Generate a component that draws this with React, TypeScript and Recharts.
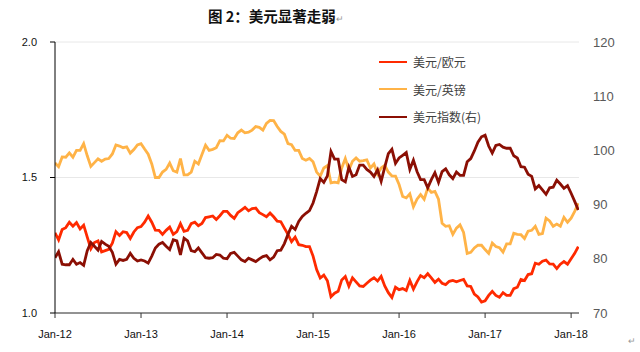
import { LineChart, Line, XAxis, YAxis, CartesianGrid } from "recharts";

// readings at the turn of each month (index 0 = start of Jan-12) and in the middle of each month
const eurStart = [
  1.296,
  1.308, 1.335, 1.334, 1.324, 1.237, 1.266, 1.23, 1.258, 1.286, 1.297, 1.299, 1.319,
  1.358, 1.306, 1.29, 1.317, 1.3, 1.301, 1.33, 1.322, 1.352, 1.358, 1.359, 1.375,
  1.349, 1.38, 1.377, 1.387, 1.363, 1.369, 1.339, 1.313, 1.263, 1.252, 1.245, 1.21,
  1.129, 1.119, 1.073, 1.122, 1.099, 1.115, 1.098, 1.121, 1.118, 1.1, 1.057, 1.086,
  1.083, 1.088, 1.138, 1.145, 1.113, 1.11, 1.117, 1.115, 1.124, 1.098, 1.059, 1.045,
  1.08, 1.058, 1.065, 1.09, 1.124, 1.142, 1.184, 1.191, 1.181, 1.164, 1.19, 1.2,
  1.245,
];
const eurMid = [
  1.27, 1.315, 1.32, 1.31, 1.28, 1.26, 1.225, 1.235, 1.3, 1.3, 1.275, 1.315,
  1.335, 1.335, 1.305, 1.305, 1.29, 1.33, 1.305, 1.335, 1.33, 1.355, 1.345, 1.375,
  1.36, 1.37, 1.39, 1.385, 1.37, 1.355, 1.355, 1.337, 1.29, 1.28, 1.25, 1.245,
  1.16, 1.14, 1.06, 1.08, 1.135, 1.13, 1.1, 1.11, 1.13, 1.135, 1.075, 1.095,
  1.09, 1.12, 1.115, 1.13, 1.13, 1.125, 1.105, 1.12, 1.12, 1.1, 1.07, 1.04,
  1.065, 1.065, 1.075, 1.065, 1.095, 1.12, 1.145, 1.18, 1.195, 1.18, 1.18, 1.18,
  1.22,
];

const gbpStart = [
  1.554,
  1.576, 1.591, 1.6, 1.625, 1.541, 1.569, 1.568, 1.587, 1.616, 1.613, 1.603, 1.625,
  1.586, 1.5, 1.52, 1.553, 1.52, 1.51, 1.52, 1.55, 1.619, 1.604, 1.636, 1.656,
  1.644, 1.675, 1.667, 1.688, 1.675, 1.711, 1.688, 1.66, 1.621, 1.6, 1.564, 1.558,
  1.505, 1.544, 1.483, 1.535, 1.528, 1.572, 1.562, 1.535, 1.513, 1.545, 1.506, 1.474,
  1.425, 1.392, 1.437, 1.461, 1.449, 1.331, 1.322, 1.313, 1.297, 1.224, 1.25, 1.234,
  1.258, 1.241, 1.255, 1.294, 1.289, 1.302, 1.32, 1.293, 1.34, 1.328, 1.353, 1.35,
  1.405,
];
const gbpMid = [
  1.54, 1.575, 1.575, 1.6, 1.58, 1.555, 1.56, 1.57, 1.62, 1.61, 1.59, 1.62,
  1.605, 1.55, 1.5, 1.53, 1.525, 1.57, 1.51, 1.56, 1.585, 1.6, 1.61, 1.635,
  1.645, 1.665, 1.665, 1.675, 1.685, 1.7, 1.71, 1.67, 1.625, 1.6, 1.57, 1.57,
  1.52, 1.535, 1.48, 1.48, 1.57, 1.56, 1.56, 1.565, 1.55, 1.535, 1.52, 1.505,
  1.43, 1.44, 1.42, 1.42, 1.445, 1.42, 1.32, 1.29, 1.325, 1.22, 1.24, 1.25,
  1.22, 1.245, 1.225, 1.255, 1.29, 1.275, 1.305, 1.29, 1.35, 1.32, 1.32, 1.335,
  1.375,
];

const dxyStart = [
  80.2,
  79.0, 78.9, 79.0, 78.8, 83.0, 81.6, 82.7, 81.2, 79.9, 79.9, 80.1, 79.8,
  79.2, 82.0, 83.0, 81.7, 83.3, 83.8, 81.5, 82.0, 80.2, 80.2, 80.7, 80.0,
  81.2, 79.8, 80.1, 79.5, 80.4, 79.8, 81.5, 82.8, 86.0, 86.9, 88.4, 90.3,
  94.8, 95.3, 98.4, 94.6, 96.9, 95.5, 97.3, 96.0, 96.4, 96.9, 100.2, 98.6,
  99.6, 98.2, 94.6, 93.1, 95.9, 96.1, 95.5, 96.0, 95.4, 98.5, 101.5, 102.8,
  99.5, 101.1, 100.4, 99.0, 97.0, 95.6, 92.9, 92.7, 93.1, 94.5, 93.0, 92.1,
  89.0,
];
const dxyMid = [
  81.3, 78.9, 79.9, 79.3, 81.5, 82.3, 83.2, 82.3, 79.0, 79.7, 81.0, 79.6,
  79.6, 80.5, 82.7, 82.3, 83.5, 80.7, 83.3, 81.3, 81.1, 80.1, 80.8, 80.1,
  81.0, 80.5, 79.5, 79.8, 80.0, 80.6, 80.3, 81.6, 84.5, 85.4, 87.8, 88.9,
  92.4, 94.1, 99.8, 98.4, 94.2, 95.2, 97.3, 96.5, 95.2, 94.3, 99.4, 97.6,
  99.1, 96.5, 96.1, 94.6, 94.6, 94.1, 96.6, 94.8, 95.4, 97.9, 99.9, 102.5,
  100.8, 100.9, 100.6, 100.4, 98.6, 96.9, 95.2, 93.5, 91.9, 93.2, 93.8, 93.5,
  90.6,
];

const yearTicks = [0, 12, 24, 36, 48, 60, 72];
const yearLabels = ["Jan-12", "Jan-13", "Jan-14", "Jan-15", "Jan-16", "Jan-17", "Jan-18"];
const leftTicks = [1.0, 1.5, 2.0];
const rightTicks = [70, 80, 90, 100, 110, 120];

const seriesNames = ["美元/欧元", "美元/英镑", "美元指数(右)"];
const seriesColors = ["#ff2a00", "#ffb347", "#8b0f04"];

const data: { t: number; eur: number; gbp: number; dxy: number }[] = [];
eurStart.forEach((v, i) => {
  data.push({ t: i, eur: v, gbp: gbpStart[i], dxy: dxyStart[i] });
  if (i < eurMid.length) {
    data.push({ t: i + 0.5, eur: eurMid[i], gbp: gbpMid[i], dxy: dxyMid[i] });
  }
});

export default function App() {
  return (
    <div
      style={{
        position: "absolute",
        left: 0,
        top: 0,
        width: 640,
        height: 352,
        background: "#fff",
        fontFamily: "'Liberation Sans', Arial, sans-serif",
      }}
    >
      <div
        style={{
          position: "absolute",
          left: 208,
          top: 5,
          fontFamily: "'Noto Sans CJK SC'",
          fontWeight: 700,
          fontSize: 14.5,
          color: "#111",
          whiteSpace: "nowrap",
        }}
      >
        图 2：美元显著走弱
        <span style={{ fontSize: 9, color: "#999", fontWeight: 400 }}>↵</span>
      </div>
      <div style={{ position: "absolute", left: 628, top: 336, fontSize: 9, color: "#999" }}>↵</div>

      <LineChart
        width={640}
        height={352}
        data={data}
        margin={{ top: 42, right: 11, bottom: 9, left: 10 }}
      >
        <CartesianGrid yAxisId="left" vertical={false} stroke="#e8e8e8" />
        <XAxis
          type="number"
          dataKey="t"
          domain={[0, 73.1]}
          ticks={yearTicks}
          tickFormatter={(v: number) => yearLabels[yearTicks.indexOf(v)]}
          stroke="#333"
          tickSize={5}
          tickMargin={12}
          tick={{ fill: "#111", fontSize: 11 }}
          allowDataOverflow
        />
        <YAxis
          yAxisId="left"
          domain={[1, 2]}
          ticks={leftTicks}
          tickFormatter={(v: number) => v.toFixed(1)}
          width={45}
          stroke="#000"
          tickSize={5}
          tickMargin={13}
          tick={{ fill: "#111", fontSize: 11 }}
        />
        <YAxis
          yAxisId="right"
          orientation="right"
          domain={[70, 120]}
          ticks={rightTicks}
          width={50}
          axisLine={false}
          tickLine={false}
          tickMargin={8}
          tick={{ fill: "#595959", fontSize: 13 }}
        />
        <Line
          yAxisId="left"
          type="linear"
          dataKey="eur"
          name={seriesNames[0]}
          stroke={seriesColors[0]}
          strokeWidth={2.8}
          dot={false}
          isAnimationActive={false}
        />
        <Line
          yAxisId="left"
          type="linear"
          dataKey="gbp"
          name={seriesNames[1]}
          stroke={seriesColors[1]}
          strokeWidth={2.8}
          dot={false}
          isAnimationActive={false}
        />
        <Line
          yAxisId="right"
          type="linear"
          dataKey="dxy"
          name={seriesNames[2]}
          stroke={seriesColors[2]}
          strokeWidth={2.8}
          dot={false}
          isAnimationActive={false}
        />
      </LineChart>

      <div
        style={{
          position: "absolute",
          left: 379,
          top: 48,
          fontFamily: "'Noto Sans CJK SC'",
          fontSize: 12,
          color: "#404040",
        }}
      >
        {seriesNames.map((name, i) => (
          <div key={name} style={{ display: "flex", alignItems: "center", height: 27.5 }}>
            <span
              style={{
                display: "inline-block",
                width: 28,
                height: 2,
                background: seriesColors[i],
                marginRight: 6,
              }}
            />
            <span>{name}</span>
          </div>
        ))}
      </div>
    </div>
  );
}
